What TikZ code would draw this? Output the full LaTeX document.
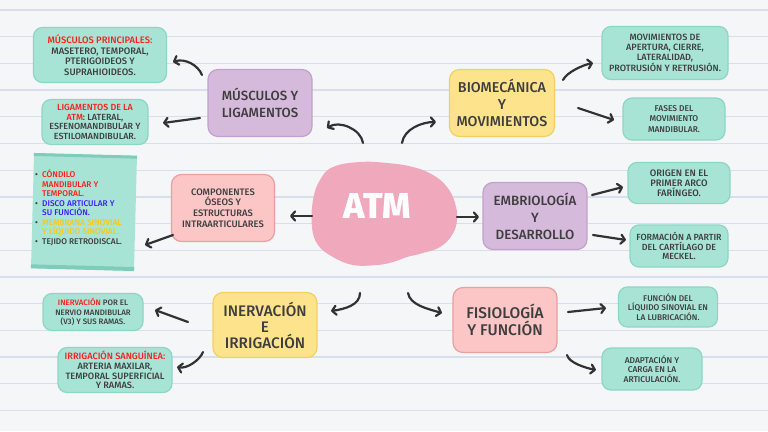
\documentclass[tikz,border=0pt]{standalone}
\usepackage{fontspec}
\setmainfont{Fira Sans Medium}
\usetikzlibrary{arrows.meta,calc}
\definecolor{bg}{RGB}{245,246,248}
\definecolor{rulec}{RGB}{215,223,236}
\definecolor{tealF}{RGB}{168,228,214}
\definecolor{tealB}{RGB}{140,214,196}
\definecolor{tealD}{RGB}{128,204,186}
\definecolor{purF}{RGB}{214,186,220}
\definecolor{purB}{RGB}{196,160,204}
\definecolor{yelF}{RGB}{253,228,140}
\definecolor{yelB}{RGB}{244,208,98}
\definecolor{pinkF}{RGB}{252,198,198}
\definecolor{pinkB}{RGB}{236,158,160}
\definecolor{atmc}{RGB}{240,168,188}
\definecolor{txt}{RGB}{62,62,62}
\definecolor{redt}{RGB}{255,28,28}
\definecolor{bluet}{RGB}{60,30,255}
\definecolor{yelt}{RGB}{250,200,20}
\definecolor{arrc}{RGB}{50,50,50}
\newcommand{\fsz}[2]{\fontsize{#1}{#2}\selectfont}
\tikzset{
  subbox/.style={draw=tealB, fill=tealF, line width=1.2pt, rounded corners=9pt,
    align=center, text=txt, font=\fsz{8.4}{10.3}, inner sep=0pt},
  mainbox/.style={line width=1.2pt, rounded corners=10pt, align=center, text=txt,
    font=\fsz{13.3}{17}, inner sep=0pt, minimum width=104pt, minimum height=67pt},
  purbox/.style={mainbox, draw=purB, fill=purF},
  yelbox/.style={mainbox, draw=yelB, fill=yelF},
  pinkbox/.style={mainbox, draw=pinkB, fill=pinkF},
  arr/.style={draw=arrc, line width=2.2pt, line cap=round, line join=round,
    -{Straight Barb[length=4pt,width=9pt,round]}},
}
\begin{document}
\begin{tikzpicture}[x=1pt,y=-1pt]
\fill[bg] (0,0) rectangle (768,431);
\useasboundingbox (0,0) rectangle (768,431);
\foreach \k in {0,...,15} \draw[rulec, line width=1.3pt] (0,{10+26.7*\k}) -- (768,{10+26.7*\k});

% central blob
\fill[atmc] plot[smooth cycle, tension=0.7] coordinates {(320,180) (333,167) (360,162) (387,163) (413,167) (433,175) (447,187) (455,203) (457,220) (452,235) (440,247) (423,253) (407,257) (393,262) (377,265) (353,265) (333,257) (318,245) (312,227) (313,200)};
\node[text=white, font=\fsz{36}{36}\bfseries, inner sep=0pt] (atm) at (377,206) {ATM};

% main topic boxes
\node[purbox] (ml) at (260,103) {MÚSCULOS Y\\LIGAMENTOS};
\node[yelbox, minimum width=105pt, font=\fsz{14.3}{17}] (bio) at (502,103) {BIOMECÁNICA\\Y\\MOVIMIENTOS};
\node[pinkbox, minimum width=103pt, font=\fsz{9.4}{10.7}] (comp) at (223,208) {COMPONENTES\\ÓSEOS Y\\ESTRUCTURAS\\INTRAARTICULARES};
\node[purbox, font=\fsz{13.4}{17}] (emb) at (535,216) {EMBRIOLOGÍA\\Y\\DESARROLLO};
\node[yelbox, minimum height=65pt, font=\fsz{15.3}{16}] (ie) at (265,325) {INERVACIÓN\\E\\IRRIGACIÓN};
\node[pinkbox, minimum height=65pt, font=\fsz{15.5}{17}] (fis) at (505,320) {FISIOLOGÍA\\Y FUNCIÓN};

% detail boxes
\node[subbox, minimum width=133pt, minimum height=55pt, font=\fsz{9.4}{10.5}] (mp) at (100,55) {\textcolor{redt}{MÚSCULOS PRINCIPALES:}\\MASETERO, TEMPORAL,\\PTERIGOIDEOS Y\\SUPRAHIOIDEOS.};
\node[subbox, minimum width=106pt, minimum height=45pt, font=\fsz{8.9}{9.7}] (lig) at (95,122) {\textcolor{redt}{LIGAMENTOS DE LA}\\\textcolor{redt}{ATM}: LATERAL,\\ESFENOMANDIBULAR Y\\ESTILOMANDIBULAR.};
\node[subbox, minimum width=100pt, minimum height=37pt, font=\fsz{7.9}{9.6}] (inv) at (93,312) {\textcolor{redt}{INERVACIÓN} POR EL\\NERVIO MANDIBULAR\\(V3) Y SUS RAMAS.};
\node[subbox, minimum width=114pt, minimum height=45pt, font=\fsz{9.2}{9.8}] (irr) at (115,370) {\textcolor{redt}{IRRIGACIÓN SANGUÍNEA:}\\ARTERIA MAXILAR,\\TEMPORAL SUPERFICIAL\\Y RAMAS.};
\node[subbox, minimum width=126pt, minimum height=53pt, font=\fsz{9.1}{10}] (mov) at (665,53) {MOVIMIENTOS DE\\APERTURA, CIERRE,\\LATERALIDAD,\\PROTRUSIÓN Y RETRUSIÓN.};
\node[subbox, minimum width=102pt, minimum height=42pt] (fas) at (674,119) {FASES DEL\\MOVIMIENTO\\MANDIBULAR.};
\node[subbox, minimum width=102pt, minimum height=41pt, font=\fsz{9.4}{10.2}] (ori) at (679,183) {ORIGEN EN EL\\PRIMER ARCO\\FARÍNGEO.};
\node[subbox, minimum width=98pt, minimum height=42pt, font=\fsz{8.9}{9.6}] (for) at (679,246) {FORMACIÓN A PARTIR\\DEL CARTÍLAGO DE\\MECKEL.};
\node[subbox, minimum width=99pt, minimum height=40pt, font=\fsz{8.3}{9.4}] (fun) at (668,307) {FUNCIÓN DEL\\LÍQUIDO SINOVIAL EN\\LA LUBRICACIÓN.};
\node[subbox, minimum width=100pt, minimum height=42pt, font=\fsz{8.4}{9.8}] (ada) at (652,369) {ADAPTACIÓN Y\\CARGA EN LA\\ARTICULACIÓN.};

% sticky note list
\node[fill=tealF, rotate=-1.5, minimum width=103pt, minimum height=115pt, inner sep=0pt] (list) at (84,212) {};
\fill[tealD] (list.north west) -- (list.north east) -- ($(list.north east)!3pt!(list.south east)$) -- ($(list.north west)!3pt!(list.south west)$) -- cycle;
\fill[tealD] (list.south west) -- (list.south east) -- ($(list.south east)!4pt!(list.north east)$) -- ($(list.south west)!4pt!(list.north west)$) -- cycle;
\node[align=left, anchor=north west, text=txt, font=\fsz{8.3}{9.5}, inner sep=0pt] (listtxt) at (35,170) {%
\makebox[7pt][l]{\textbullet}\textcolor{redt}{CÓNDILO}\\
\hspace*{7pt}\textcolor{redt}{MANDIBULAR Y}\\
\hspace*{7pt}\textcolor{redt}{TEMPORAL.}\\
\makebox[7pt][l]{\textbullet}\textcolor{bluet}{DISCO ARTICULAR Y}\\
\hspace*{7pt}\textcolor{bluet}{SU FUNCIÓN.}\\
\makebox[7pt][l]{\textbullet}\textcolor{yelt}{MEMBRANA SINOVIAL}\\
\hspace*{7pt}\textcolor{yelt}{Y LÍQUIDO SINOVIAL.}\\
\makebox[7pt][l]{\textbullet}TEJIDO RETRODISCAL.};

% arrows from ATM
\draw[arr] ([shift={(-14,-63)}]atm.center) .. controls +(-2,-14) and +(12,-8) .. ([shift={(67,25)}]ml.center);
\draw[arr] ([shift={(25,-63)}]atm.center) .. controls +(2,-14) and +(-14,0) .. ([shift={(-66,19)}]bio.center);
\draw[arr] ([shift={(-65,10)}]atm.center) -- ([shift={(67,8)}]comp.center);
\draw[arr] ([shift={(80,11)}]atm.center) -- ([shift={(-56,1)}]emb.center);
\draw[arr] ([shift={(-17,87)}]atm.center) .. controls +(0,12) and +(14,-2) .. ([shift={(66,-14)}]ie.center);
\draw[arr] ([shift={(31,87)}]atm.center) .. controls +(2,12) and +(-14,-4) .. ([shift={(-63,-7)}]fis.center);

% arrows to details
\draw[arr] ([shift={(-58,-28)}]ml.center) .. controls +(-4,-10) and +(12,-4) .. ([shift={(73,7)}]mp.center);
\draw[arr] ([shift={(-60,15)}]ml.center) -- ([shift={(68,1)}]lig.center);
\draw[arr] ([shift={(-50,27)}]comp.center) -- ([shift={(61,33)}]list.center);
\draw[arr] ([shift={(-77,-3)}]ie.center) -- ([shift={(62,-2)}]inv.center);
\draw[arr] ([shift={(-62,27)}]ie.center) .. controls +(-3,8) and +(10,2) .. ([shift={(62,-3)}]irr.center);
\draw[arr] ([shift={(61,-23)}]bio.center) .. controls +(4,-8) and +(-10,2) .. ([shift={(-72,10)}]mov.center);
\draw[arr] ([shift={(76,5)}]bio.center) -- ([shift={(-60,1)}]fas.center);
\draw[arr] ([shift={(57,-21)}]emb.center) -- ([shift={(-56,4)}]ori.center);
\draw[arr] ([shift={(58,19)}]emb.center) -- ([shift={(-53,-6)}]for.center);
\draw[arr] ([shift={(63,-8)}]fis.center) -- ([shift={(-62,1)}]fun.center);
\draw[arr] ([shift={(62,35)}]fis.center) .. controls +(2,8) and +(-10,-2) .. ([shift={(-56,1)}]ada.center);
\end{tikzpicture}
\end{document}
